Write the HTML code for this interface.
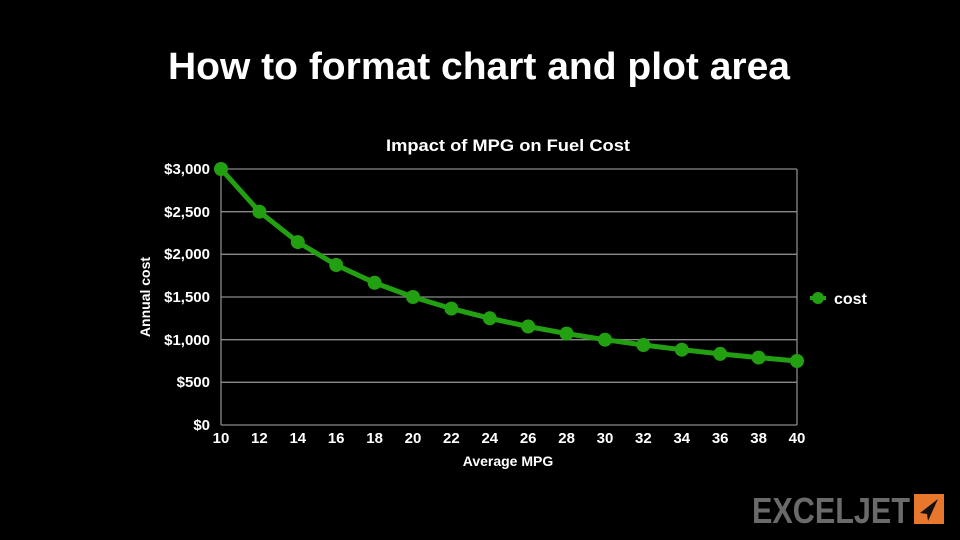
<!DOCTYPE html>
<html><head><style>
body{margin:0;background:#000;width:960px;height:540px;overflow:hidden}
svg{display:block}
text{font-family:"Liberation Sans","DejaVu Sans",sans-serif;fill:#fff}
</style></head><body>
<svg width="960" height="540" viewBox="0 0 960 540">
<rect width="960" height="540" fill="#000"/>
<text x="168" y="79" font-size="38" font-weight="bold" textLength="622" lengthAdjust="spacingAndGlyphs">How to format chart and plot area</text>
<text x="386" y="151" font-size="17" font-weight="bold" textLength="244" lengthAdjust="spacingAndGlyphs">Impact of MPG on Fuel Cost</text>
<g stroke="#8a8a8a" stroke-width="1.3" fill="none">
<line x1="221" y1="169" x2="797" y2="169"/>
<line x1="221" y1="211.7" x2="797" y2="211.7"/>
<line x1="221" y1="254.3" x2="797" y2="254.3"/>
<line x1="221" y1="297" x2="797" y2="297"/>
<line x1="221" y1="339.7" x2="797" y2="339.7"/>
<line x1="221" y1="382.3" x2="797" y2="382.3"/>
<line x1="221" y1="425" x2="797" y2="425"/>
<line x1="221" y1="169" x2="221" y2="425"/>
<line x1="797" y1="169" x2="797" y2="425"/>
</g>
<g font-size="15" font-weight="bold" text-anchor="end">
<text x="210" y="174">$3,000</text>
<text x="210" y="217">$2,500</text>
<text x="210" y="259">$2,000</text>
<text x="210" y="302">$1,500</text>
<text x="210" y="345">$1,000</text>
<text x="210" y="387">$500</text>
<text x="210" y="430">$0</text>
</g>
<g font-size="15" font-weight="bold" text-anchor="middle">
<text x="221" y="443">10</text><text x="259.4" y="443">12</text><text x="297.8" y="443">14</text><text x="336.2" y="443">16</text><text x="374.6" y="443">18</text><text x="413" y="443">20</text><text x="451.4" y="443">22</text><text x="489.8" y="443">24</text><text x="528.2" y="443">26</text><text x="566.6" y="443">28</text><text x="605" y="443">30</text><text x="643.4" y="443">32</text><text x="681.8" y="443">34</text><text x="720.2" y="443">36</text><text x="758.6" y="443">38</text><text x="797" y="443">40</text>
</g>
<text x="508" y="466" text-anchor="middle" font-size="14" font-weight="bold">Average MPG</text>
<text transform="translate(150,297) rotate(-90)" text-anchor="middle" font-size="14" font-weight="bold">Annual cost</text>
<polyline fill="none" stroke="#22a012" stroke-width="5" stroke-linejoin="round" points="221,169 259.4,211.7 297.8,242.1 336.2,265 374.6,282.8 413,297 451.4,308.6 489.8,318.3 528.2,326.5 566.6,333.6 605,339.7 643.4,345 681.8,349.7 720.2,353.9 758.6,357.6 797,361"/>
<g fill="#22a012">
<circle cx="221" cy="169" r="7"/><circle cx="259.4" cy="211.7" r="7"/><circle cx="297.8" cy="242.1" r="7"/><circle cx="336.2" cy="265" r="7"/><circle cx="374.6" cy="282.8" r="7"/><circle cx="413" cy="297" r="7"/><circle cx="451.4" cy="308.6" r="7"/><circle cx="489.8" cy="318.3" r="7"/><circle cx="528.2" cy="326.5" r="7"/><circle cx="566.6" cy="333.6" r="7"/><circle cx="605" cy="339.7" r="7"/><circle cx="643.4" cy="345" r="7"/><circle cx="681.8" cy="349.7" r="7"/><circle cx="720.2" cy="353.9" r="7"/><circle cx="758.6" cy="357.6" r="7"/><circle cx="797" cy="361" r="7"/>
<line x1="810" y1="298" x2="826" y2="298" stroke="#22a012" stroke-width="4"/>
<circle cx="818" cy="298" r="6"/>
</g>
<text x="834" y="304" font-size="16" font-weight="bold">cost</text>
<text x="752" y="523" font-size="36" font-weight="bold" style="fill:#6a6a6a" textLength="158" lengthAdjust="spacingAndGlyphs">EXCELJET</text>
<rect x="914" y="494" width="30" height="30" fill="#e8772e"/>
<polygon points="938,499 920,513 927,514 928,521" fill="#111"/>
</svg>
</body></html>
